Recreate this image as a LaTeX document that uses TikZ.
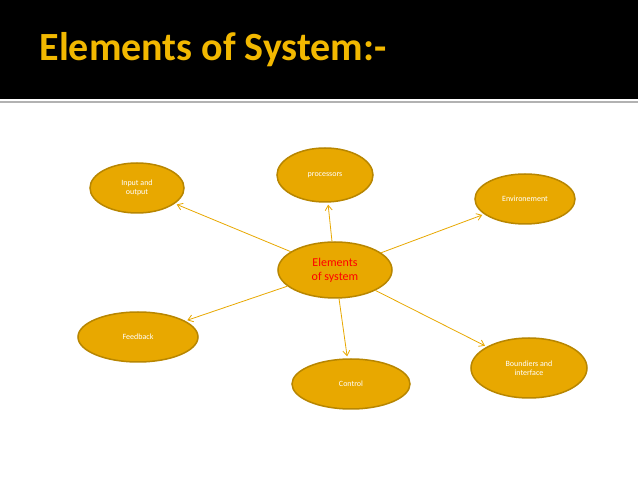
\documentclass[tikz,border=0pt]{standalone}
\usepackage{fontspec}
\setmainfont{Carlito}
\usetikzlibrary{shapes.geometric,arrows.meta}
\definecolor{gold}{HTML}{E8A800}
\definecolor{golddark}{HTML}{B88600}
\definecolor{titlegold}{HTML}{F2B800}
\tikzset{
  el/.style={ellipse,draw=golddark,line width=1.5pt,fill=gold,text=white,font=\fontsize{8}{9}\selectfont,align=center,inner sep=0pt},
  conn/.style={draw=gold,line width=0.8pt,-{Straight Barb[length=5pt,width=7pt]},shorten >=2pt}
}
\begin{document}
\begin{tikzpicture}[x=1pt,y=-1pt]
\useasboundingbox (0,0) rectangle (638,478);
\fill[white] (0,0) rectangle (638,478);
\fill[black] (0,0) rectangle (638,99);
\fill[gray!60] (0,101) rectangle (638,103);
\node[anchor=west,text=titlegold,font=\fontsize{40}{44}\bfseries\selectfont] (title) at (36,50) {Elements of System:-};
\node[el,minimum width=94pt,minimum height=50pt] (io) at (137,188) {Input and\\output};
\node[el,minimum width=96pt,minimum height=54pt] (pr) at (325,175) {processors};
\node[el,minimum width=100pt,minimum height=50pt] (en) at (525,199) {Environement};
\node[el,minimum width=114pt,minimum height=56pt,text=red,font=\fontsize{12}{14}\selectfont] (c) at (335,270) {Elements\\of system};
\node[el,minimum width=120pt,minimum height=50pt] (fb) at (138,337) {Feedback};
\node[el,minimum width=118pt,minimum height=50pt] (co) at (351,384) {Control};
\node[el,minimum width=116pt,minimum height=60pt] (bo) at (529,368) {Boundiers and\\interface};
\foreach \t in {io,pr,en,fb,co,bo} \draw[conn] (c) -- (\t);
\end{tikzpicture}
\end{document}
